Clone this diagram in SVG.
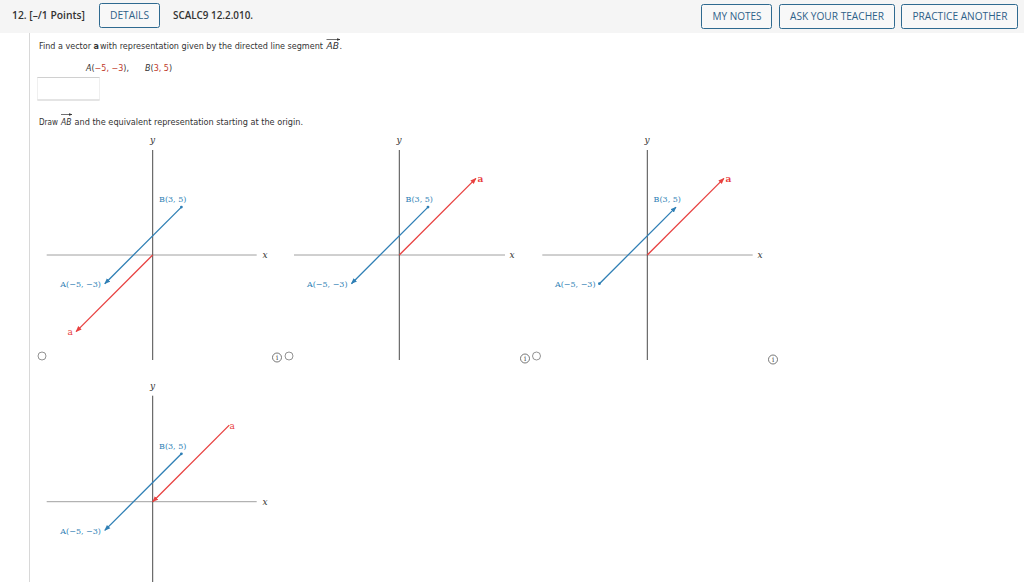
<svg xmlns="http://www.w3.org/2000/svg" width="1024" height="582" viewBox="0 0 1024 582">
<style>
.hdr{font-family:"Open Sans","Liberation Sans",sans-serif;font-size:10px;font-weight:600;fill:#333}
.btn rect{fill:#f8f8f8;stroke:#2f6a90;stroke-width:1}
.btn text{font-family:"Open Sans","Liberation Sans",sans-serif;font-size:10px;fill:#2f6189;text-anchor:middle}
.body{font-family:"DejaVu Sans","Verdana",sans-serif;font-size:8px;fill:#333}
.red{fill:#c0392b}
.ax-h{stroke:#a0a0a0;stroke-width:1}
.ax-v{stroke:#4a4a4a;stroke-width:1}
.axl{font-family:"DejaVu Serif","Liberation Serif",serif;font-style:italic;font-size:9px;fill:#333}
.blue{stroke:#2f7fb5;stroke-width:1.3;fill:none}
.redv{stroke:#e8403f;stroke-width:1.3;fill:none}
.bl{font-family:"DejaVu Serif","Liberation Serif",serif;font-size:8px;fill:#2f7fb5}
.rl{font-family:"DejaVu Serif","Liberation Serif",serif;font-size:9px;fill:#e8403f}
.radio{fill:#fff;stroke:#777;stroke-width:0.8}
.info circle{fill:#fff;stroke:#555;stroke-width:0.8}
.info text{font-family:"DejaVu Serif","Liberation Serif",serif;font-size:7px;fill:#444;text-anchor:middle}
</style>
<defs>
<marker id="ab" viewBox="0 0 10 10" refX="9" refY="5" markerWidth="6" markerHeight="6" markerUnits="userSpaceOnUse" orient="auto"><path d="M0,1 L10,5 L0,9 Z" fill="#2f7fb5"/></marker>
<marker id="ar" viewBox="0 0 10 10" refX="9" refY="5" markerWidth="6" markerHeight="6" markerUnits="userSpaceOnUse" orient="auto"><path d="M0,1 L10,5 L0,9 Z" fill="#e8403f"/></marker>
<marker id="ak" viewBox="0 0 10 10" refX="9" refY="5" markerWidth="3.5" markerHeight="3.5" markerUnits="userSpaceOnUse" orient="auto"><path d="M0,1 L10,5 L0,9 Z" fill="#333"/></marker>
</defs>
<rect x="0" y="0" width="1024" height="582" fill="#fff"/>
<rect x="0" y="0" width="1024" height="33" fill="#f5f5f5"/>
<line x1="29.5" y1="33" x2="29.5" y2="582" stroke="#d8d8d8"/>
<g id="header">
<text class="hdr" x="12" y="19" textLength="73" lengthAdjust="spacingAndGlyphs">12.  [–/1 Points]</text>
<text class="hdr" x="173" y="19" textLength="80" lengthAdjust="spacingAndGlyphs">SCALC9 12.2.010.</text>
</g>
<g id="btn-details" class="btn"><rect x="99.5" y="3.5" width="60" height="24" rx="2"/><text x="129.5" y="19" textLength="39" lengthAdjust="spacingAndGlyphs">DETAILS</text></g>
<g id="btn-notes" class="btn"><rect x="701.5" y="4.5" width="70" height="24" rx="2"/><text x="737" y="19.5" textLength="49" lengthAdjust="spacingAndGlyphs">MY NOTES</text></g>
<g id="btn-ask" class="btn"><rect x="779.5" y="4.5" width="115" height="24" rx="2"/><text x="837" y="19.5" textLength="94" lengthAdjust="spacingAndGlyphs">ASK YOUR TEACHER</text></g>
<g id="btn-practice" class="btn"><rect x="901.5" y="4.5" width="116" height="24" rx="2"/><text x="960" y="19.5" textLength="95" lengthAdjust="spacingAndGlyphs">PRACTICE ANOTHER</text></g>
<g id="question">
<text class="body" x="39" y="49" textLength="52" lengthAdjust="spacingAndGlyphs">Find a vector</text>
<text class="body" x="93.5" y="49" font-weight="bold">a</text>
<text class="body" x="100" y="49" textLength="223" lengthAdjust="spacingAndGlyphs">with representation given by the directed line segment</text>
<text class="body" x="326.5" y="49" font-style="italic" textLength="12.5" lengthAdjust="spacingAndGlyphs">AB</text>
<text class="body" x="339.5" y="49">.</text>
<line x1="326.5" y1="39.5" x2="340" y2="39.5" stroke="#333" stroke-width="0.7" marker-end="url(#ak)"/>
<text class="body" x="86" y="70.5"><tspan font-style="italic">A</tspan>(<tspan class="red">−5, −3</tspan>),</text>
<text class="body" x="145" y="70.5"><tspan font-style="italic">B</tspan>(<tspan class="red">3, 5</tspan>)</text>
<rect x="37.5" y="77.5" width="62" height="22.5" fill="#fff" stroke="#ececec" stroke-width="0.8"/>
<line x1="37.5" y1="77.5" x2="99.5" y2="77.5" stroke="#c8c8c8" stroke-width="0.8"/>
<line x1="37.5" y1="100" x2="99.5" y2="100" stroke="#c8c8c8" stroke-width="0.8"/>
<text class="body" x="39" y="125" textLength="19" lengthAdjust="spacingAndGlyphs">Draw</text>
<text class="body" x="61" y="125" font-style="italic" textLength="10.5" lengthAdjust="spacingAndGlyphs">AB</text>
<line x1="61" y1="114.5" x2="72" y2="114.5" stroke="#333" stroke-width="0.7" marker-end="url(#ak)"/>
<text class="body" x="74.5" y="125" textLength="228.5" lengthAdjust="spacingAndGlyphs">and the equivalent representation starting at the origin.</text>
</g>
<g id="graph1">
<line class="ax-h" x1="46.7" y1="255" x2="256.7" y2="255"/>
<line class="ax-v" x1="152.7" y1="150" x2="152.7" y2="360"/>
<text class="axl" x="150" y="143">y</text>
<text class="axl" x="262.5" y="258">x</text>
<text class="bl" x="159" y="202">B(3, 5)</text>
<text class="bl" x="101" y="286.5" text-anchor="end">A(−5, −3)</text>
<text class="rl" x="67.5" y="335">a</text>
</g>
<g id="graph2">
<line class="ax-h" x1="294" y1="255" x2="505" y2="255"/>
<line class="ax-v" x1="399.3" y1="150" x2="399.3" y2="360"/>
<text class="axl" x="396.6" y="143">y</text>
<text class="axl" x="509.5" y="258">x</text>
<text class="bl" x="405.6" y="202">B(3, 5)</text>
<text class="bl" x="347.6" y="286.5" text-anchor="end">A(−5, −3)</text>
<text class="rl" x="477.5" y="182" font-weight="bold">a</text>
</g>
<g id="graph3">
<line class="ax-h" x1="542.3" y1="255" x2="752.7" y2="255"/>
<line class="ax-v" x1="647.3" y1="150" x2="647.3" y2="360"/>
<text class="axl" x="644.6" y="143">y</text>
<text class="axl" x="757.5" y="258">x</text>
<text class="bl" x="653.6" y="202">B(3, 5)</text>
<text class="bl" x="595.6" y="286.5" text-anchor="end">A(−5, −3)</text>
<text class="rl" x="725.5" y="182" font-weight="bold">a</text>
</g>
<g id="graph4">
<line class="ax-h" x1="46.7" y1="501.7" x2="256.7" y2="501.7"/>
<line class="ax-v" x1="152.7" y1="395.7" x2="152.7" y2="582"/>
<text class="axl" x="150" y="389">y</text>
<text class="axl" x="262.5" y="505">x</text>
<text class="bl" x="159" y="448.5">B(3, 5)</text>
<text class="bl" x="101" y="533.5" text-anchor="end">A(−5, −3)</text>
<text class="rl" x="229.5" y="429">a</text>
</g>
<g id="connectors">
<line class="blue" x1="181.4" y1="207.1" x2="104.8" y2="283.7" marker-end="url(#ab)"/>
<circle cx="181.4" cy="207.1" r="1.4" fill="#2f7fb5"/>
<line class="redv" x1="152.7" y1="255" x2="76.1" y2="331.6" marker-end="url(#ar)"/>
<line class="blue" x1="428" y1="207.1" x2="351.4" y2="283.7" marker-end="url(#ab)"/>
<circle cx="428" cy="207.1" r="1.4" fill="#2f7fb5"/>
<line class="redv" x1="399.3" y1="255" x2="475.9" y2="178.4" marker-end="url(#ar)"/>
<line class="blue" x1="599.4" y1="283.7" x2="676" y2="207.1" marker-end="url(#ab)"/>
<circle cx="599.4" cy="283.7" r="1.4" fill="#2f7fb5"/>
<line class="redv" x1="647.3" y1="255" x2="723.9" y2="178.4" marker-end="url(#ar)"/>
<line class="blue" x1="181.4" y1="453.8" x2="104.8" y2="530.4" marker-end="url(#ab)"/>
<circle cx="181.4" cy="453.8" r="1.4" fill="#2f7fb5"/>
<line class="redv" x1="229.3" y1="425.1" x2="152.7" y2="501.7" marker-end="url(#ar)"/>
</g>
<g id="choices">
<circle class="radio" cx="42" cy="356" r="4"/>
<circle class="radio" cx="289" cy="356" r="4"/>
<circle class="radio" cx="536.5" cy="356" r="4"/>
<g class="info"><circle cx="277" cy="357.5" r="4.5"/><text x="277" y="360">i</text></g>
<g class="info"><circle cx="525" cy="358.5" r="4.5"/><text x="525" y="361">i</text></g>
<g class="info"><circle cx="773" cy="359.5" r="4.5"/><text x="773" y="362">i</text></g>
</g>
</svg>
